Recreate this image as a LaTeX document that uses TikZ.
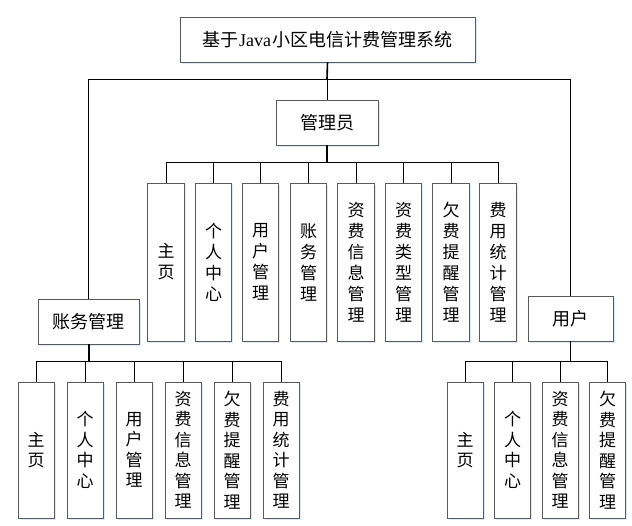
\documentclass[tikz,border=0pt]{standalone}
\usepackage{fontspec}
\newfontfamily\cjk{Noto Sans CJK SC}
\newfontfamily\latin{Liberation Serif}
\usetikzlibrary{shadows}
\definecolor{boxgray}{RGB}{90,90,90}
\definecolor{shadowblue}{RGB}{215,228,245}
\tikzset{
	box/.style={draw=boxgray, line width=0.9pt, fill=white, inner sep=0pt, align=center,
		drop shadow={shadow xshift=1.5pt, shadow yshift=-1.5pt, fill=shadowblue, opacity=0.8},
		font=\cjk\fontsize{17}{21}\selectfont},
	wide/.style={box, minimum height=45pt, font=\cjk\fontsize{18}{21}\selectfont},
	tallbox/.style={box, minimum width=36.5pt, minimum height=158pt},
	lowbox/.style={box, minimum width=36pt, minimum height=136pt, font=\cjk\fontsize{17}{20.5}\selectfont},
	link/.style={black, line width=0.8pt},
	stem/.style={black, line width=1.6pt}
}
\begin{document}
\begin{tikzpicture}[x=1pt, y=-1pt]
	\useasboundingbox (0,0) rectangle (632,525);
	% top levels
	\node [wide, minimum width=295pt] (sys) at (327.5,39.5) {基于\hspace{1pt}{\latin Java}\hspace{2pt}小区电信计费管理系统};
	\node [wide, minimum width=102pt] (admin) at (327,122.5) {管理员};
	\node [wide, minimum width=101.5pt] (acct) at (88.7,321.5) {账务管理};
	\node [wide, minimum width=85pt] (user) at (570.5,318.5) {用户};
	% admin functions
	\node [tallbox] (a1) at (166,262) {主\\页};
	\node [tallbox] (a2) at (213.5,262) {个\\人\\中\\心};
	\node [tallbox] (a3) at (260.5,262) {用\\户\\管\\理};
	\node [tallbox] (a4) at (308.5,262) {账\\务\\管\\理};
	\node [tallbox] (a5) at (356,262) {资\\费\\信\\息\\管\\理};
	\node [tallbox] (a6) at (403.5,262) {资\\费\\类\\型\\管\\理};
	\node [tallbox] (a7) at (451,262) {欠\\费\\提\\醒\\管\\理};
	\node [tallbox] (a8) at (498,262) {费\\用\\统\\计\\管\\理};
	% accounting functions
	\node [lowbox] (b1) at (36,450) {主\\页};
	\node [lowbox] (b2) at (85,450) {个\\人\\中\\心};
	\node [lowbox] (b3) at (134,450) {用\\户\\管\\理};
	\node [lowbox] (b4) at (183,450) {资\\费\\信\\息\\管\\理};
	\node [lowbox] (b5) at (232,450) {欠\\费\\提\\醒\\管\\理};
	\node [lowbox] (b6) at (281,450) {费\\用\\统\\计\\管\\理};
	% user functions
	\node [lowbox] (u1) at (465,450) {主\\页};
	\node [lowbox] (u2) at (512.5,450) {个\\人\\中\\心};
	\node [lowbox] (u3) at (560,450) {资\\费\\信\\息\\管\\理};
	\node [lowbox] (u4) at (607.5,450) {欠\\费\\提\\醒\\管\\理};
	% bus lines
	\coordinate (topbus) at (327,79);
	\coordinate (abus) at (327,162);
	\coordinate (bbus) at (88.7,361);
	\coordinate (ubus) at (570.5,361);
	\draw [stem] (sys.south) -- (topbus);
	\draw [link] (topbus) -- (admin.north);
	\draw [link] (acct.north) -- (acct.north |- topbus) -- (user.north |- topbus) -- (user.north);
	\draw [stem] (admin.south) -- (abus);
	\draw [link] (a1.north) -- (a1.north |- abus) -- (a8.north |- abus) -- (a8.north);
	\draw [link] (a2.north) -- (a2.north |- abus);
	\draw [link] (a3.north) -- (a3.north |- abus);
	\draw [link] (a4.north) -- (a4.north |- abus);
	\draw [link] (a5.north) -- (a5.north |- abus);
	\draw [link] (a6.north) -- (a6.north |- abus);
	\draw [link] (a7.north) -- (a7.north |- abus);
	\draw [stem] (acct.south) -- (bbus);
	\draw [link] (b1.north) -- (b1.north |- bbus) -- (b6.north |- bbus) -- (b6.north);
	\draw [link] (b2.north) -- (b2.north |- bbus);
	\draw [link] (b3.north) -- (b3.north |- bbus);
	\draw [link] (b4.north) -- (b4.north |- bbus);
	\draw [link] (b5.north) -- (b5.north |- bbus);
	\draw [stem] (user.south) -- (ubus);
	\draw [link] (u1.north) -- (u1.north |- ubus) -- (u4.north |- ubus) -- (u4.north);
	\draw [link] (u2.north) -- (u2.north |- ubus);
	\draw [link] (u3.north) -- (u3.north |- ubus);
\end{tikzpicture}
\end{document}
